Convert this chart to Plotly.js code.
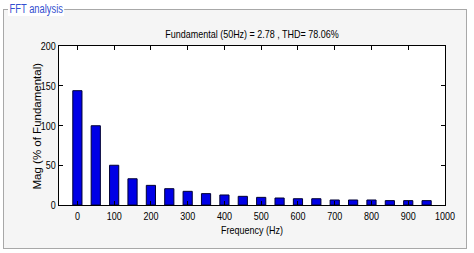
<!DOCTYPE html>
<html>
<head>
<meta charset="utf-8">
<script src="https://cdn.plot.ly/plotly-3.0.1.min.js"></script>
<style>
  html, body { margin:0; padding:0; background:#ffffff; width:474px; height:253px; overflow:hidden; }
  #frame { position:absolute; left:3px; top:9px; width:462px; height:238px; border:1px solid #a8a8a8; background:#f5f5f5; }
  #label { position:absolute; left:8px; top:2px; padding:0 2px; background:#ffffff; color:#3350d0; font-family:"Liberation Sans",Arial,sans-serif; font-size:12px; line-height:14px; transform:scaleX(0.78); transform-origin:left top; }
  #chart { position:absolute; left:0; top:0; width:474px; height:253px; }
</style>
</head>
<body>
<div id="frame"></div>
<div id="label">FFT analysis</div>
<div id="chart"></div>
<script>
const frequencies = [0, 50, 100, 150, 200, 250, 300, 350, 400, 450, 500, 550, 600, 650, 700, 750, 800, 850, 900, 950];
const magnitudes = [143.8, 99.7, 50, 33, 24.7, 20.5, 17.2, 14.3, 12.6, 10.9, 9.6, 8.8, 7.9, 7.9, 6.3, 6.3, 6.3, 5.5, 5.5, 5.5];
const xTicks = [0, 100, 200, 300, 400, 500, 600, 700, 800, 900, 1000];
const yTicks = [0, 50, 100, 150, 200];
const chartTitle = "Fundamental (50Hz) = 2.78 , THD= 78.06%";
const xTitle = "Frequency (Hz)";
const yTitle = "Mag (% of Fundamental)";

const fontFam = '"Liberation Sans",Arial,sans-serif';

Plotly.newPlot('chart', [{
  type: 'bar',
  x: frequencies,
  y: magnitudes,
  width: 25,
  marker: { color: '#0000e6', line: { color: '#000033', width: 1 } },
  hoverinfo: 'none'
}], {
  width: 474, height: 253,
  margin: { l: 59, r: 29, t: 46, b: 48, pad: 0 },
  paper_bgcolor: 'rgba(0,0,0,0)',
  plot_bgcolor: '#ffffff',
  showlegend: false,
  title: { text: chartTitle, font: { family: fontFam, size: 11.5, color: '#000' }, x: 0.5, xref: 'paper', xanchor: 'center', y: 1, yref: 'paper', yanchor: 'bottom', pad: { b: 8 } },
  xaxis: {
    range: [-50, 1000], tickvals: xTicks, ticktext: xTicks.map(String),
    ticks: 'inside', ticklen: 4, tickcolor: '#000', mirror: 'allticks',
    showline: true, linecolor: '#000', linewidth: 1, showgrid: false, zeroline: false,
    tickfont: { family: fontFam, size: 11.5, color: '#000' },
    title: { text: xTitle, font: { family: fontFam, size: 11.5, color: '#000' }, standoff: 5 }
  },
  yaxis: {
    range: [0, 200], tickvals: yTicks, ticktext: yTicks.map(String),
    ticks: 'inside', ticklen: 4, tickcolor: '#000', mirror: 'allticks',
    showline: true, linecolor: '#000', linewidth: 1, showgrid: false, zeroline: false,
    tickfont: { family: fontFam, size: 11.5, color: '#000' }
  },
  annotations: [{
    text: yTitle, textangle: -90, showarrow: false,
    xref: 'paper', yref: 'paper', x: -0.057, y: 0.5, xanchor: 'center', yanchor: 'middle',
    font: { family: fontFam, size: 11.5, color: '#000' }
  }]
}, { staticPlot: true, displayModeBar: false }).then(function () {
  document.querySelectorAll('#chart .xtick text, #chart .ytick text, #chart .gtitle, #chart .xtitle').forEach(function (t) {
    const isY = t.closest('.ytick') !== null;
    const b0 = t.getBBox();
    const c0 = b0.x + b0.width / 2;
    const r0 = b0.x + b0.width;
    const L = t.getComputedTextLength();
    t.setAttribute('textLength', (L * 0.78).toFixed(1));
    t.setAttribute('lengthAdjust', 'spacingAndGlyphs');
    const b1 = t.getBBox();
    const dx = isY ? (r0 - (b1.x + b1.width)) : (c0 - (b1.x + b1.width / 2));
    const x = parseFloat(t.getAttribute('x') || '0');
    t.setAttribute('x', (x + dx).toFixed(2));
  });
});
</script>
</body>
</html>
